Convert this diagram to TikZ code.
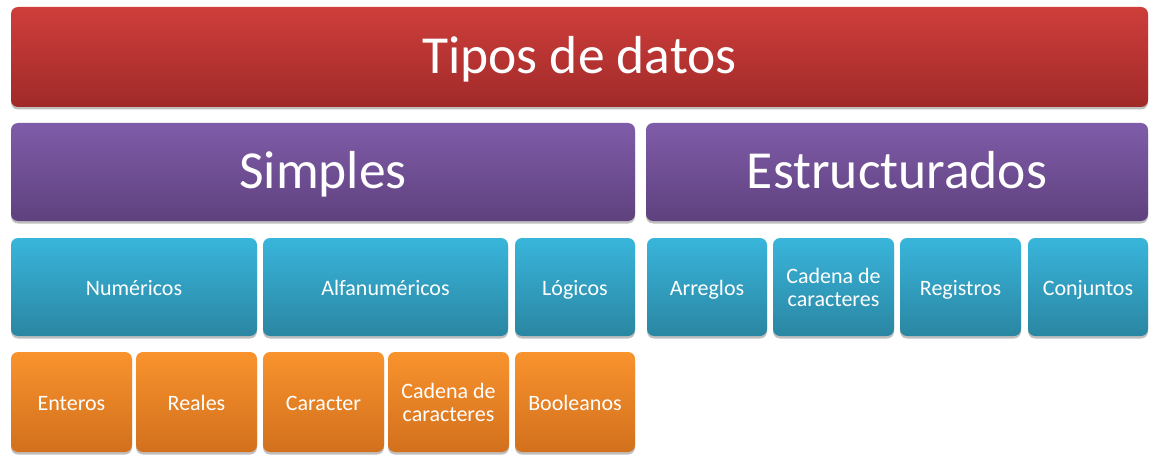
\documentclass[tikz,border=0pt]{standalone}
\usepackage{fontspec}
\setmainfont{Carlito}
\usetikzlibrary{shadows}
\definecolor{redT}{HTML}{CE3E3B}
\definecolor{redB}{HTML}{A02A29}
\definecolor{purT}{HTML}{7F5CA9}
\definecolor{purB}{HTML}{5F417E}
\definecolor{cyaT}{HTML}{39B5DB}
\definecolor{cyaB}{HTML}{2A86A2}
\definecolor{oraT}{HTML}{F8932D}
\definecolor{oraB}{HTML}{D2701D}
\tikzset{
  box/.style={rounded corners=7pt,
    drop shadow={shadow xshift=0pt, shadow yshift=-2.5pt, opacity=0.25, fill=black}},
  redbox/.style={box, top color=redT, bottom color=redB},
  purbox/.style={box, top color=purT, bottom color=purB},
  cyabox/.style={box, top color=cyaT, bottom color=cyaB},
  orabox/.style={box, top color=oraT, bottom color=oraB},
  lbl/.style={text=white, align=center, inner sep=0pt},
  big/.style={font=\fontsize{53.5}{58}\selectfont},
  small/.style={font=\fontsize{22}{23.5}\selectfont}
}
\begin{document}
\begin{tikzpicture}[x=1pt,y=-1pt]
\useasboundingbox (0,0) rectangle (1157,468);
% red
\path[redbox] (11,7) rectangle (1148,107);
\node[lbl, big] (tipos) at (579.5,62) {\strut Tipos de datos};
% purple
\path[purbox] (11,123) rectangle (635,221);
\node[lbl, big] (simples) at (323,177) {\strut Simples};
\path[purbox] (646,123) rectangle (1148,221);
\node[lbl, big] (estr) at (897,177) {\strut Estructurados};
% cyan row
\foreach \n/\a/\b/\t in {num/11/257/{Numéricos}, alf/263/508/{Alfanuméricos}, log/515/635/{Lógicos},
  arr/647/767/{Arreglos}, cad/773/894/{Cadena de\\caracteres}, reg/900/1021/{Registros}, con/1028/1148/{Conjuntos}}{
  \path[cyabox] (\a,238) rectangle (\b,336);
  \node[lbl, small] (\n) at ({(\a+\b)/2},290.5) {\strut\t\strut};
}
% orange row
\foreach \n/\a/\b/\t in {ent/11/132/{Enteros}, rea/136/257/{Reales}, car/263/384/{Caracter},
  cdc/388/509/{Cadena de\\caracteres}, boo/515/635/{Booleanos}}{
  \path[orabox] (\a,352) rectangle (\b,452);
  \node[lbl, small] (\n) at ({(\a+\b)/2},405.5) {\strut\t\strut};
}
\end{tikzpicture}
\end{document}
